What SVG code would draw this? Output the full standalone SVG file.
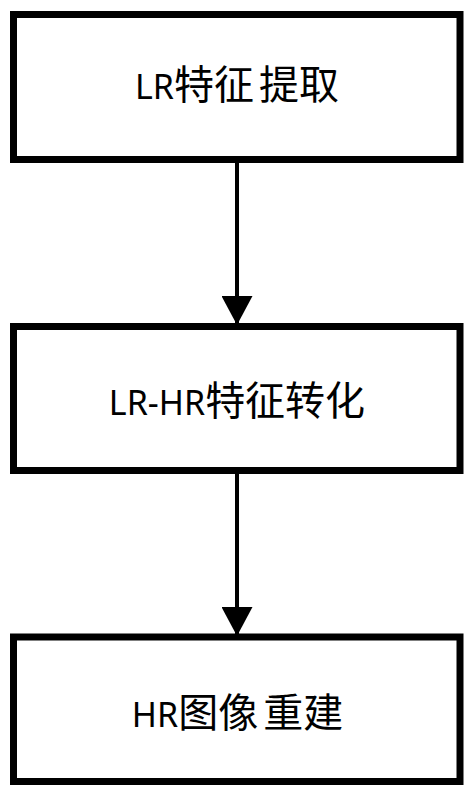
<svg xmlns="http://www.w3.org/2000/svg" width="474" height="798" viewBox="0 0 474 798">
<style>
.box{fill:#fff;stroke:#000;stroke-width:7}
.lbl{font-family:"Noto Sans CJK SC","Noto Sans",sans-serif;font-size:40px;fill:#000;text-anchor:middle}
.lat{font-family:"Noto Sans","Noto Sans CJK SC",sans-serif;font-size:34px}
.edge{stroke:#000;stroke-width:4;fill:none}
</style>
<defs>
<marker id="ah" markerUnits="userSpaceOnUse" markerWidth="29" markerHeight="31" refX="29" refY="15.5" orient="auto" viewBox="0 0 29 31">
<path d="M0,0 L29,15.5 L0,31 Z" fill="#000"/>
</marker>
</defs>
<rect width="474" height="798" fill="#fff"/>
<g id="connectors">
<line class="edge" x1="237" y1="163" x2="237" y2="325" marker-end="url(#ah)"/>
<line class="edge" x1="237" y1="474" x2="237" y2="636" marker-end="url(#ah)"/>
</g>
<g id="n1">
<rect class="box" x="13.5" y="14.5" width="446.5" height="145"/>
<text class="lbl" x="237" y="99"><tspan class="lat">LR</tspan>特征<tspan dx="5">提取</tspan></text>
</g>
<g id="n2">
<rect class="box" x="13.5" y="326.5" width="446.5" height="144"/>
<text class="lbl" x="237" y="415"><tspan class="lat">LR-HR</tspan>特征转化</text>
</g>
<g id="n3">
<rect class="box" x="13.5" y="637" width="446.5" height="144.5"/>
<text class="lbl" x="237.5" y="727"><tspan class="lat">HR</tspan>图像<tspan dx="5">重建</tspan></text>
</g>
</svg>
